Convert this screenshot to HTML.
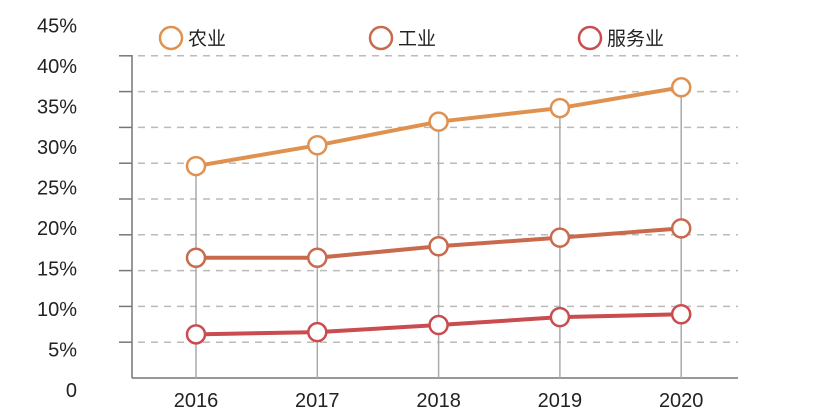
<!DOCTYPE html>
<html><head><meta charset="utf-8"><style>
body{margin:0;background:#fff;width:830px;height:415px;overflow:hidden}
text{font-family:"Liberation Sans","Noto Sans CJK SC",sans-serif}
</style></head><body>
<svg width="830" height="415">
<g id="grid"></g>
<g id="yl"></g>
<g id="xl"></g>
<g id="series"></g>
<g id="legend"></g>
</svg>
<script>
const years=["2016","2017","2018","2019","2020"];
const agri=[29.6,32.5,35.8,37.7,40.6];
const industry=[16.8,16.8,18.4,19.6,20.9];
const services=[6.1,6.4,7.4,8.5,8.9];
const yTickLabels=["0","5%","10%","15%","20%","25%","30%","35%","40%","45%"];
const names=["农业","工业","服务业"];
const colors=["#e0914f","#c9694d","#c94c4f"];
const NS="http://www.w3.org/2000/svg";
function mk(t,a,p){const e=document.createElementNS(NS,t);for(const k in a)e.setAttribute(k,a[k]);p.appendChild(e);return e;}
const x0=132,x1=738,yb=378,step=35.8;
function xs(i){return 196+i*121.3;}
function ys(v){return yb-v/5*step;}
const grid=document.getElementById('grid');
for(let k=1;k<=9;k++){const y=ys(k*5);
const g=mk('line',{x1:x0+6,x2:x1,y1:y,y2:y,stroke:'#bbb','stroke-width':1.5,'stroke-dasharray':'7,6'},grid);

const t=mk('line',{x1:119,x2:x0,y1:y,y2:y,stroke:'#777','stroke-width':1.5},grid);
}
const yl=document.getElementById('yl');
mk('line',{x1:x0,x2:x0,y1:55,y2:yb,stroke:'#777','stroke-width':1.5},yl);
mk('line',{x1:x0,x2:x1,y1:yb,y2:yb,stroke:'#777','stroke-width':1.5},yl);
yTickLabels.forEach((s,i)=>{const t=mk('text',{x:77,y:390-i*40.5+7,'text-anchor':'end','font-size':20,fill:'#222'},yl);t.textContent=s;
});
const xl=document.getElementById('xl');
years.forEach((s,i)=>{const t=mk('text',{x:xs(i),y:407,'text-anchor':'middle','font-size':20,fill:'#222'},xl);t.textContent=s;

const top=Math.min(ys(agri[i]),ys(industry[i]),ys(services[i]));
const l=mk('line',{x1:xs(i),x2:xs(i),y1:top,y2:yb,stroke:'#aaa','stroke-width':1.5},xl);
});
const sg=document.getElementById('series');
[agri,industry,services].forEach((d,s)=>{
const p=mk('polyline',{points:d.map((v,i)=>xs(i)+','+ys(v)).join(' '),fill:'none',stroke:colors[s],'stroke-width':4},sg);

d.forEach((v,i)=>{const c=mk('circle',{cx:xs(i),cy:ys(v),r:9,fill:'#fff',stroke:colors[s],'stroke-width':2.5},sg);
});});
const lg=document.getElementById('legend');
[171,381,590].forEach((x,i)=>{const c=mk('circle',{cx:x,cy:38,r:11,fill:'#fff',stroke:colors[i],'stroke-width':2.5},lg);

const t=mk('text',{x:x+17,y:45,'font-size':19,fill:'#222'},lg);t.textContent=names[i];
});
</script>
</body></html>
